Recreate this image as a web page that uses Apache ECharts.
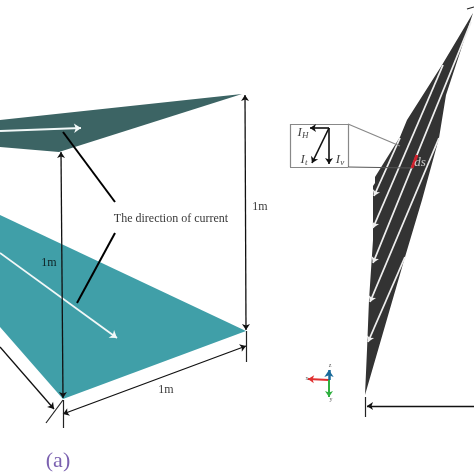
<!DOCTYPE html>
<html>
<head>
<meta charset="utf-8">
<style>
html,body{margin:0;padding:0;background:#fff}
#chart{width:474px;height:474px}
</style>
<script src="https://cdn.jsdelivr.net/npm/echarts@6/dist/echarts.min.js"></script>
</head>
<body>
<div id="chart"></div>
<script>
// the picture is a diagram, so every shape is a list of picture positions read on a 0-474 scale
var topPlate = [[0,120],[242,94],[59,152],[0,147]];
var bottomPlate = [[0,215],[246,331],[63,399],[0,327]];
var sidePlate = [[473,13],[442,65],[407,120],[400,137],[375,177],[375,183],[373,186],[373,240],[369,300],[367,350],[365,395],[405,257],[422,200],[439,138],[446,95]];

var whiteArrows = [[[0,131],[81,128]],[[0,253],[117,338]]];
var sideCurrents = [[[400,138],[374,196]],[[443,65],[373,228]],[[471,22],[373,263]],[[439,138],[370,302]],[[405,257],[368,342]]];
var doubleArrows = [[[61,152],[63,398]],[[245,95],[246,330]],[[63,414],[246,346]]];
var oneArrows = [[[0,347],[54,409]],[[474,406],[367,406]]];
var plainLines = [[[63,400],[63,428]],[[246,331],[246,362]],[[63,400],[46,423]],[[365,397],[365,417]],[[467,9],[474,7]]];
var leaders = [[[63,132],[115,202]],[[115,233],[77,303]]];
var insetBox = [[[290,124],[348,124]],[[348,124],[348,167]],[[348,167],[290,167]],[[290,167],[290,124]],[[348,124],[400,146]]];
var insetLower = [[[348,167],[412,168]]];
var insetArrows = [[[329,128],[310,128]],[[329,128],[312,163]],[[329,128],[329,164]]];
var dsMark = [[[417,155],[412,168]]];
var triadX = [[[329,380],[308,379]]];
var triadY = [[[329,380],[329,397]]];
var triadZ = [[[329,380],[329,370]]];

var plainLabels = [[171,219,'The direction of current'],[49,263,'1m'],[260,207,'1m'],[166,390,'1m']];
var insetLabels = [[303,133,'{i|I}{s|H}'],[304,160,'{i|I}{s|t}'],[340,160,'{i|I}{s|v}']];
var triadLabels = [[307,378,'x'],[330,365,'z'],[331,399,'y']];

function polygonSeries(points, color) {
	return {
		type: 'custom',
		coordinateSystem: 'cartesian2d',
		silent: true,
		data: [0],
		renderItem: function (params, api) {
			return {
				type: 'polygon',
				shape: { points: points.map(function (p) { return api.coord(p); }) },
				style: { fill: color }
			};
		}
	};
}

function lineSeries(list, color, width, symbol, size) {
	return {
		type: 'lines',
		coordinateSystem: 'cartesian2d',
		silent: true,
		symbol: symbol,
		symbolSize: size,
		lineStyle: { color: color, width: width, opacity: 1, curveness: 0 },
		data: list.map(function (c) { return { coords: c }; })
	};
}

function textSeries(list, style) {
	return {
		type: 'scatter',
		silent: true,
		symbolSize: 0,
		label: Object.assign({
			show: true,
			position: 'inside',
			fontFamily: 'Liberation Serif',
			formatter: function (p) { return p.value[2]; }
		}, style),
		data: list
	};
}

var NONE = ['none', 'none'];
var END = ['none', 'arrow'];
var BOTH = ['arrow', 'arrow'];

var option = {
	animation: false,
	backgroundColor: '#fff',
	grid: { left: 0, right: 0, top: 0, bottom: 0 },
	xAxis: { type: 'value', min: 0, max: 474, show: false },
	yAxis: { type: 'value', min: 0, max: 474, inverse: true, show: false },
	series: [
		polygonSeries(topPlate, '#3c6464'),
		polygonSeries(bottomPlate, '#409fa8'),
		polygonSeries(sidePlate, '#333333'),
		lineSeries(whiteArrows, '#f2f8f8', 1.8, END, 7),
		lineSeries(sideCurrents, '#eeeeee', 1.8, END, 6),
		lineSeries(doubleArrows, '#111111', 1.3, BOTH, 6),
		lineSeries(oneArrows, '#111111', 1.3, END, 6),
		lineSeries(plainLines, '#222222', 1.2, NONE, 0),
		lineSeries(leaders, '#000000', 2, NONE, 0),
		lineSeries(insetBox, '#888888', 1.2, NONE, 0),
		lineSeries(insetLower, '#555555', 1, NONE, 0),
		lineSeries(insetArrows, '#111111', 1.6, END, 6),
		lineSeries(dsMark, '#d0202c', 3, NONE, 0),
		lineSeries(triadX, '#e03030', 2, END, 6),
		lineSeries(triadY, '#30b040', 2, END, 6),
		lineSeries(triadZ, '#1a6a9a', 2.5, END, 7),
		textSeries(plainLabels, { fontSize: 12, color: '#000' }),
		textSeries([[58,461,'(a)']], { fontSize: 22, color: '#5a3a9c' }),
		textSeries([[420,163,'ds']], { fontSize: 13, fontStyle: 'italic', color: '#eee' }),
		textSeries(triadLabels, { fontSize: 6, color: '#333' }),
		textSeries(insetLabels, {
			rich: {
				i: { fontFamily: 'Liberation Serif', fontStyle: 'italic', fontSize: 13, color: '#111' },
				s: { fontFamily: 'Liberation Serif', fontStyle: 'italic', fontSize: 9, color: '#111', verticalAlign: 'bottom', padding: [5, 0, 0, 0] }
			}
		})
	]
};

var myChart = echarts.init(document.getElementById('chart'));
myChart.setOption(option);
</script>
</body>
</html>
